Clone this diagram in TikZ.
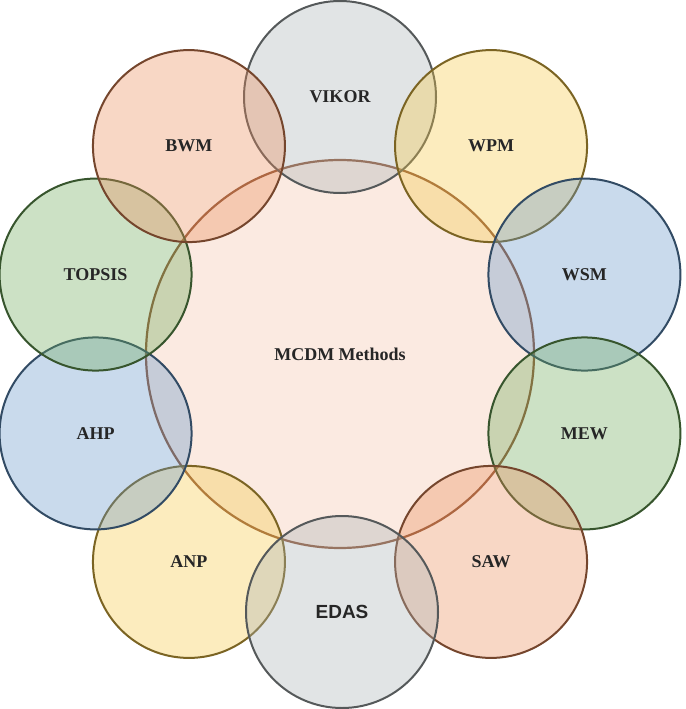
\documentclass[tikz,border=0pt]{standalone}
\usepackage{fontspec}
\setmainfont{Liberation Serif}
\newfontfamily\sansb{Liberation Sans}
\usetikzlibrary{calc}
\definecolor{cgray}{RGB}{170,178,180}
\definecolor{cyel}{RGB}{245,200,70}
\definecolor{cblue}{RGB}{100,150,200}
\definecolor{cgreen}{RGB}{110,170,90}
\definecolor{corg}{RGB}{235,140,90}
\tikzset{
  bub/.style={circle, minimum size=192pt, inner sep=0pt, line width=2pt,
    draw=#1!50!black, fill=#1, fill opacity=0.35, text opacity=1,
    font=\bfseries\fontsize{18}{21}\selectfont, text=black!85},
  hub/.style={circle, minimum size=388pt, inner sep=0pt, line width=2.2pt,
    draw=corg!60!black, fill=corg!18,
    font=\bfseries\fontsize{18}{21}\selectfont, text=black!85}
}
\begin{document}
\begin{tikzpicture}[x=1pt,y=-1pt]
\useasboundingbox (0,0) rectangle (685,709);
\node[hub] (c) at (340,354) {MCDM Methods};
\foreach \n/\a/\col/\t in {vikor/90/cgray/VIKOR, wpm/54/cyel/WPM, wsm/18/cblue/WSM,
  mew/-18/cgreen/MEW, saw/-54/corg/SAW, anp/234/cyel/ANP, ahp/198/cblue/AHP,
  topsis/162/cgreen/TOPSIS, bwm/126/corg/BWM}{
  \node[bub=\col] (\n) at ($(340,354)+({257*cos(\a)},{-257*sin(\a)})$) {\t};
}
\node[bub=cgray, font=\sansb\bfseries\fontsize{19}{22}\selectfont] (edas) at (342,612) {EDAS};
\end{tikzpicture}
\end{document}
